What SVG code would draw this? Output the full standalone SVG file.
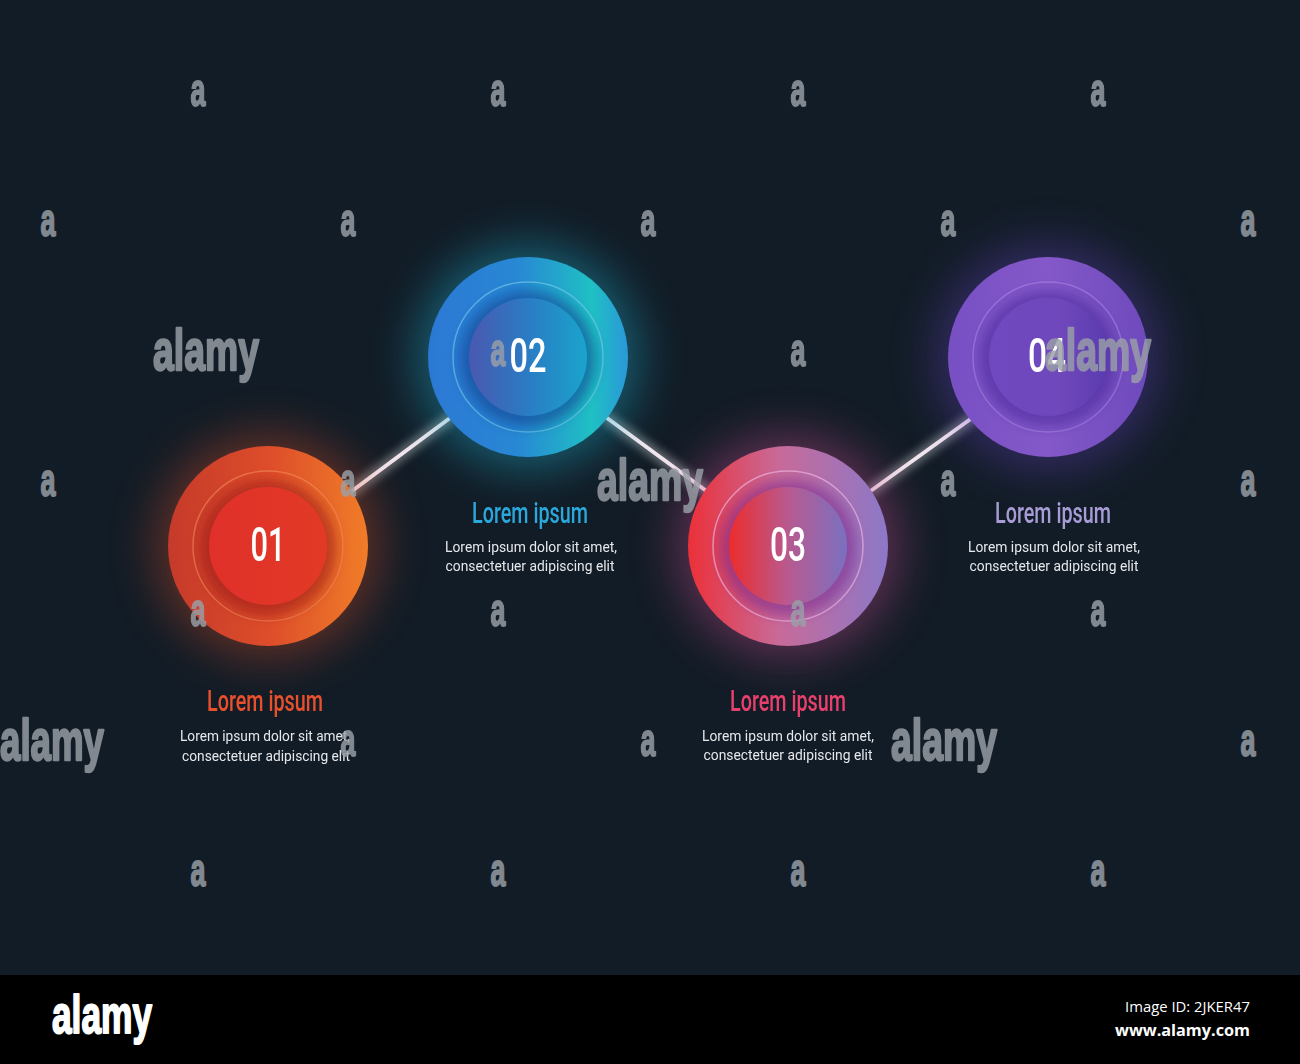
<svg xmlns="http://www.w3.org/2000/svg" width="1300" height="1064" viewBox="0 0 1300 1064">
<defs>
<style>
.num{font-family:Roboto,"Liberation Sans",sans-serif;font-weight:500;font-size:49px;fill:#ffffff;text-anchor:middle}
.ttl{font-family:Roboto,"Liberation Sans",sans-serif;font-weight:500;font-size:30px;text-anchor:middle}
.body{font-family:Roboto,"Liberation Sans",sans-serif;font-size:14px;fill:#e6e8ec;text-anchor:middle}
.wm{font-family:"Liberation Sans",Arial,sans-serif;font-weight:bold;fill:#9aa0a8;stroke:#9aa0a8;stroke-width:1.8;stroke-linejoin:round;opacity:0.82;text-anchor:middle}
.wa{font-size:46px}
.wb{font-size:58px;stroke-width:2.4}
.ring{fill:none;stroke-width:1.5}
.link{stroke:#f2e6ee;stroke-width:4;stroke-linecap:round}
.linkglow{stroke:#ffffff;stroke-width:12;opacity:0.35;stroke-linecap:round}
</style>
<filter id="glow" x="-50%" y="-50%" width="200%" height="200%"><feGaussianBlur stdDeviation="24"/></filter>
<filter id="soft" x="-50%" y="-50%" width="200%" height="200%"><feGaussianBlur stdDeviation="6"/></filter>
<filter id="lglow" x="-50%" y="-50%" width="200%" height="200%"><feGaussianBlur stdDeviation="4"/></filter>
<linearGradient id="g1o" x1="0" y1="0" x2="1" y2="0"><stop offset="0" stop-color="#c53a2a"/><stop offset="0.5" stop-color="#dd4d2a"/><stop offset="1" stop-color="#f07c28"/></linearGradient>
<linearGradient id="g1i" x1="0" y1="0" x2="1" y2="0"><stop offset="0" stop-color="#e0302a"/><stop offset="1" stop-color="#e23a26"/></linearGradient>
<linearGradient id="g2o" x1="0" y1="0" x2="1" y2="0"><stop offset="0" stop-color="#2c78d4"/><stop offset="0.45" stop-color="#2888d4"/><stop offset="0.82" stop-color="#1fc0c4"/><stop offset="1" stop-color="#2a98d8"/></linearGradient>
<linearGradient id="g2i" x1="0" y1="0" x2="1" y2="0"><stop offset="0" stop-color="#4a58b0"/><stop offset="0.5" stop-color="#2a7cc4"/><stop offset="1" stop-color="#1aa4cc"/></linearGradient>
<linearGradient id="g3o" x1="0" y1="0" x2="1" y2="0"><stop offset="0" stop-color="#ec3038"/><stop offset="0.45" stop-color="#c86a98"/><stop offset="1" stop-color="#8c78c8"/></linearGradient>
<linearGradient id="g3i" x1="0" y1="0" x2="1" y2="0"><stop offset="0" stop-color="#ec2c2c"/><stop offset="0.5" stop-color="#b85a90"/><stop offset="1" stop-color="#7a70c0"/></linearGradient>
<linearGradient id="g4o" x1="0" y1="0" x2="1" y2="0"><stop offset="0" stop-color="#7850c4"/><stop offset="0.5" stop-color="#8458c8"/><stop offset="1" stop-color="#6e4abc"/></linearGradient>
<linearGradient id="g4i" x1="0" y1="0" x2="1" y2="0"><stop offset="0" stop-color="#7048c0"/><stop offset="0.6" stop-color="#7048bc"/><stop offset="1" stop-color="#5a3cb0"/></linearGradient>
</defs>
<rect x="0" y="0" width="1300" height="975" fill="#121c26"/>
<rect x="0" y="975" width="1300" height="89" fill="#000000"/>

<g id="connectors">
<g filter="url(#lglow)">
<line class="linkglow" x1="352" y1="491" x2="450" y2="418"/>
<line class="linkglow" x1="607" y1="418" x2="705" y2="490"/>
<line class="linkglow" x1="872" y1="490" x2="972" y2="418"/>
</g>
<line class="link" x1="352" y1="491" x2="450" y2="418"/>
<line class="link" x1="607" y1="418" x2="705" y2="490"/>
<line class="link" x1="872" y1="490" x2="972" y2="418"/>
</g>

<g id="node1">
<circle cx="268" cy="546" r="112" fill="#e0502a" opacity="0.4" filter="url(#glow)"/>
<circle cx="268" cy="546" r="100" fill="url(#g1o)"/>
<circle class="ring" cx="268" cy="546" r="75" stroke="#f59060" opacity="0.6"/>
<circle cx="268" cy="548" r="68" fill="#9a1818" opacity="0.55" filter="url(#soft)"/>
<circle cx="268" cy="546" r="59" fill="url(#g1i)"/>
<text class="num" x="268" y="561" textLength="35" lengthAdjust="spacingAndGlyphs">01</text>
</g>

<g id="node2">
<circle cx="528" cy="357" r="112" fill="#1fb0d0" opacity="0.45" filter="url(#glow)"/>
<circle cx="528" cy="357" r="100" fill="url(#g2o)"/>
<circle class="ring" cx="528" cy="357" r="75" stroke="#7ed0ee" opacity="0.6"/>
<circle cx="528" cy="359" r="68" fill="#0c3c8c" opacity="0.55" filter="url(#soft)"/>
<circle cx="528" cy="357" r="59" fill="url(#g2i)"/>
<text class="num" x="528" y="372" textLength="37" lengthAdjust="spacingAndGlyphs">02</text>
</g>

<g id="node3">
<circle cx="788" cy="546" r="112" fill="#c04a8a" opacity="0.45" filter="url(#glow)"/>
<circle cx="788" cy="546" r="100" fill="url(#g3o)"/>
<circle class="ring" cx="788" cy="546" r="75" stroke="#f0b8e0" opacity="0.7"/>
<circle cx="788" cy="548" r="68" fill="#7a2890" opacity="0.55" filter="url(#soft)"/>
<circle cx="788" cy="546" r="59" fill="url(#g3i)"/>
<text class="num" x="788" y="561" textLength="36" lengthAdjust="spacingAndGlyphs">03</text>
</g>

<g id="node4">
<circle cx="1048" cy="357" r="112" fill="#6a44c8" opacity="0.4" filter="url(#glow)"/>
<circle cx="1048" cy="357" r="100" fill="url(#g4o)"/>
<circle class="ring" cx="1048" cy="357" r="75" stroke="#a888e4" opacity="0.6"/>
<circle cx="1048" cy="359" r="68" fill="#3a1a90" opacity="0.45" filter="url(#soft)"/>
<circle cx="1048" cy="357" r="59" fill="url(#g4i)"/>
<text class="num" x="1047" y="372" textLength="38" lengthAdjust="spacingAndGlyphs">04</text>
</g>

<g id="label1">
<text class="ttl" x="265" y="711" fill="#e8502c" textLength="116" lengthAdjust="spacingAndGlyphs">Lorem ipsum</text>
<text class="body" x="265" y="741" textLength="170" lengthAdjust="spacingAndGlyphs">Lorem ipsum dolor sit amet,</text>
<text class="body" x="266" y="761" textLength="168" lengthAdjust="spacingAndGlyphs">consectetuer adipiscing elit</text>
</g>
<g id="label2">
<text class="ttl" x="530" y="523" fill="#2aa8dc" textLength="116" lengthAdjust="spacingAndGlyphs">Lorem ipsum</text>
<text class="body" x="531" y="552" textLength="172" lengthAdjust="spacingAndGlyphs">Lorem ipsum dolor sit amet,</text>
<text class="body" x="530" y="571" textLength="169" lengthAdjust="spacingAndGlyphs">consectetuer adipiscing elit</text>
</g>
<g id="label3">
<text class="ttl" x="788" y="711" fill="#e8406c" textLength="116" lengthAdjust="spacingAndGlyphs">Lorem ipsum</text>
<text class="body" x="788" y="741" textLength="172" lengthAdjust="spacingAndGlyphs">Lorem ipsum dolor sit amet,</text>
<text class="body" x="788" y="760" textLength="169" lengthAdjust="spacingAndGlyphs">consectetuer adipiscing elit</text>
</g>
<g id="label4">
<text class="ttl" x="1053" y="523" fill="#a89cd6" textLength="116" lengthAdjust="spacingAndGlyphs">Lorem ipsum</text>
<text class="body" x="1054" y="552" textLength="172" lengthAdjust="spacingAndGlyphs">Lorem ipsum dolor sit amet,</text>
<text class="body" x="1054" y="571" textLength="169" lengthAdjust="spacingAndGlyphs">consectetuer adipiscing elit</text>
</g>

<g id="watermarks">
<text class="wm wa" x="198" y="106" textLength="15" lengthAdjust="spacingAndGlyphs">a</text>
<text class="wm wa" x="498" y="106" textLength="15" lengthAdjust="spacingAndGlyphs">a</text>
<text class="wm wa" x="798" y="106" textLength="15" lengthAdjust="spacingAndGlyphs">a</text>
<text class="wm wa" x="1098" y="106" textLength="15" lengthAdjust="spacingAndGlyphs">a</text>
<text class="wm wa" x="48" y="236" textLength="15" lengthAdjust="spacingAndGlyphs">a</text>
<text class="wm wa" x="348" y="236" textLength="15" lengthAdjust="spacingAndGlyphs">a</text>
<text class="wm wa" x="648" y="236" textLength="15" lengthAdjust="spacingAndGlyphs">a</text>
<text class="wm wa" x="948" y="236" textLength="15" lengthAdjust="spacingAndGlyphs">a</text>
<text class="wm wa" x="1248" y="236" textLength="15" lengthAdjust="spacingAndGlyphs">a</text>
<text class="wm wb" x="206" y="370" textLength="106" lengthAdjust="spacingAndGlyphs">alamy</text>
<text class="wm wa" x="498" y="366" textLength="15" lengthAdjust="spacingAndGlyphs">a</text>
<text class="wm wa" x="798" y="366" textLength="15" lengthAdjust="spacingAndGlyphs">a</text>
<text class="wm wb" x="1098" y="370" textLength="106" lengthAdjust="spacingAndGlyphs">alamy</text>
<text class="wm wa" x="48" y="496" textLength="15" lengthAdjust="spacingAndGlyphs">a</text>
<text class="wm wa" x="348" y="496" textLength="15" lengthAdjust="spacingAndGlyphs">a</text>
<text class="wm wb" x="650" y="500" textLength="106" lengthAdjust="spacingAndGlyphs">alamy</text>
<text class="wm wa" x="948" y="496" textLength="15" lengthAdjust="spacingAndGlyphs">a</text>
<text class="wm wa" x="1248" y="496" textLength="15" lengthAdjust="spacingAndGlyphs">a</text>
<text class="wm wa" x="198" y="626" textLength="15" lengthAdjust="spacingAndGlyphs">a</text>
<text class="wm wa" x="498" y="626" textLength="15" lengthAdjust="spacingAndGlyphs">a</text>
<text class="wm wa" x="798" y="626" textLength="15" lengthAdjust="spacingAndGlyphs">a</text>
<text class="wm wa" x="1098" y="626" textLength="15" lengthAdjust="spacingAndGlyphs">a</text>
<text class="wm wb" x="52" y="760" textLength="104" lengthAdjust="spacingAndGlyphs">alamy</text>
<text class="wm wa" x="348" y="756" textLength="15" lengthAdjust="spacingAndGlyphs">a</text>
<text class="wm wa" x="648" y="756" textLength="15" lengthAdjust="spacingAndGlyphs">a</text>
<text class="wm wb" x="944" y="760" textLength="106" lengthAdjust="spacingAndGlyphs">alamy</text>
<text class="wm wa" x="1248" y="756" textLength="15" lengthAdjust="spacingAndGlyphs">a</text>
<text class="wm wa" x="198" y="886" textLength="15" lengthAdjust="spacingAndGlyphs">a</text>
<text class="wm wa" x="498" y="886" textLength="15" lengthAdjust="spacingAndGlyphs">a</text>
<text class="wm wa" x="798" y="886" textLength="15" lengthAdjust="spacingAndGlyphs">a</text>
<text class="wm wa" x="1098" y="886" textLength="15" lengthAdjust="spacingAndGlyphs">a</text>
</g>

<g id="footer">
<text x="102" y="1033" font-family="Liberation Sans, Arial, sans-serif" font-weight="bold" font-size="54" fill="#ffffff" stroke="#ffffff" stroke-width="2" stroke-linejoin="round" text-anchor="middle" textLength="100" lengthAdjust="spacingAndGlyphs">alamy</text>
<text x="1250" y="1012" font-family="'Open Sans', 'DejaVu Sans', sans-serif" font-size="14" fill="#ffffff" text-anchor="end" textLength="125" lengthAdjust="spacingAndGlyphs">Image ID: 2JKER47</text>
<text x="1250" y="1036" font-family="'Open Sans', 'DejaVu Sans', sans-serif" font-weight="bold" font-size="16" fill="#ffffff" text-anchor="end" textLength="135" lengthAdjust="spacingAndGlyphs">www.alamy.com</text>
</g>
</svg>
